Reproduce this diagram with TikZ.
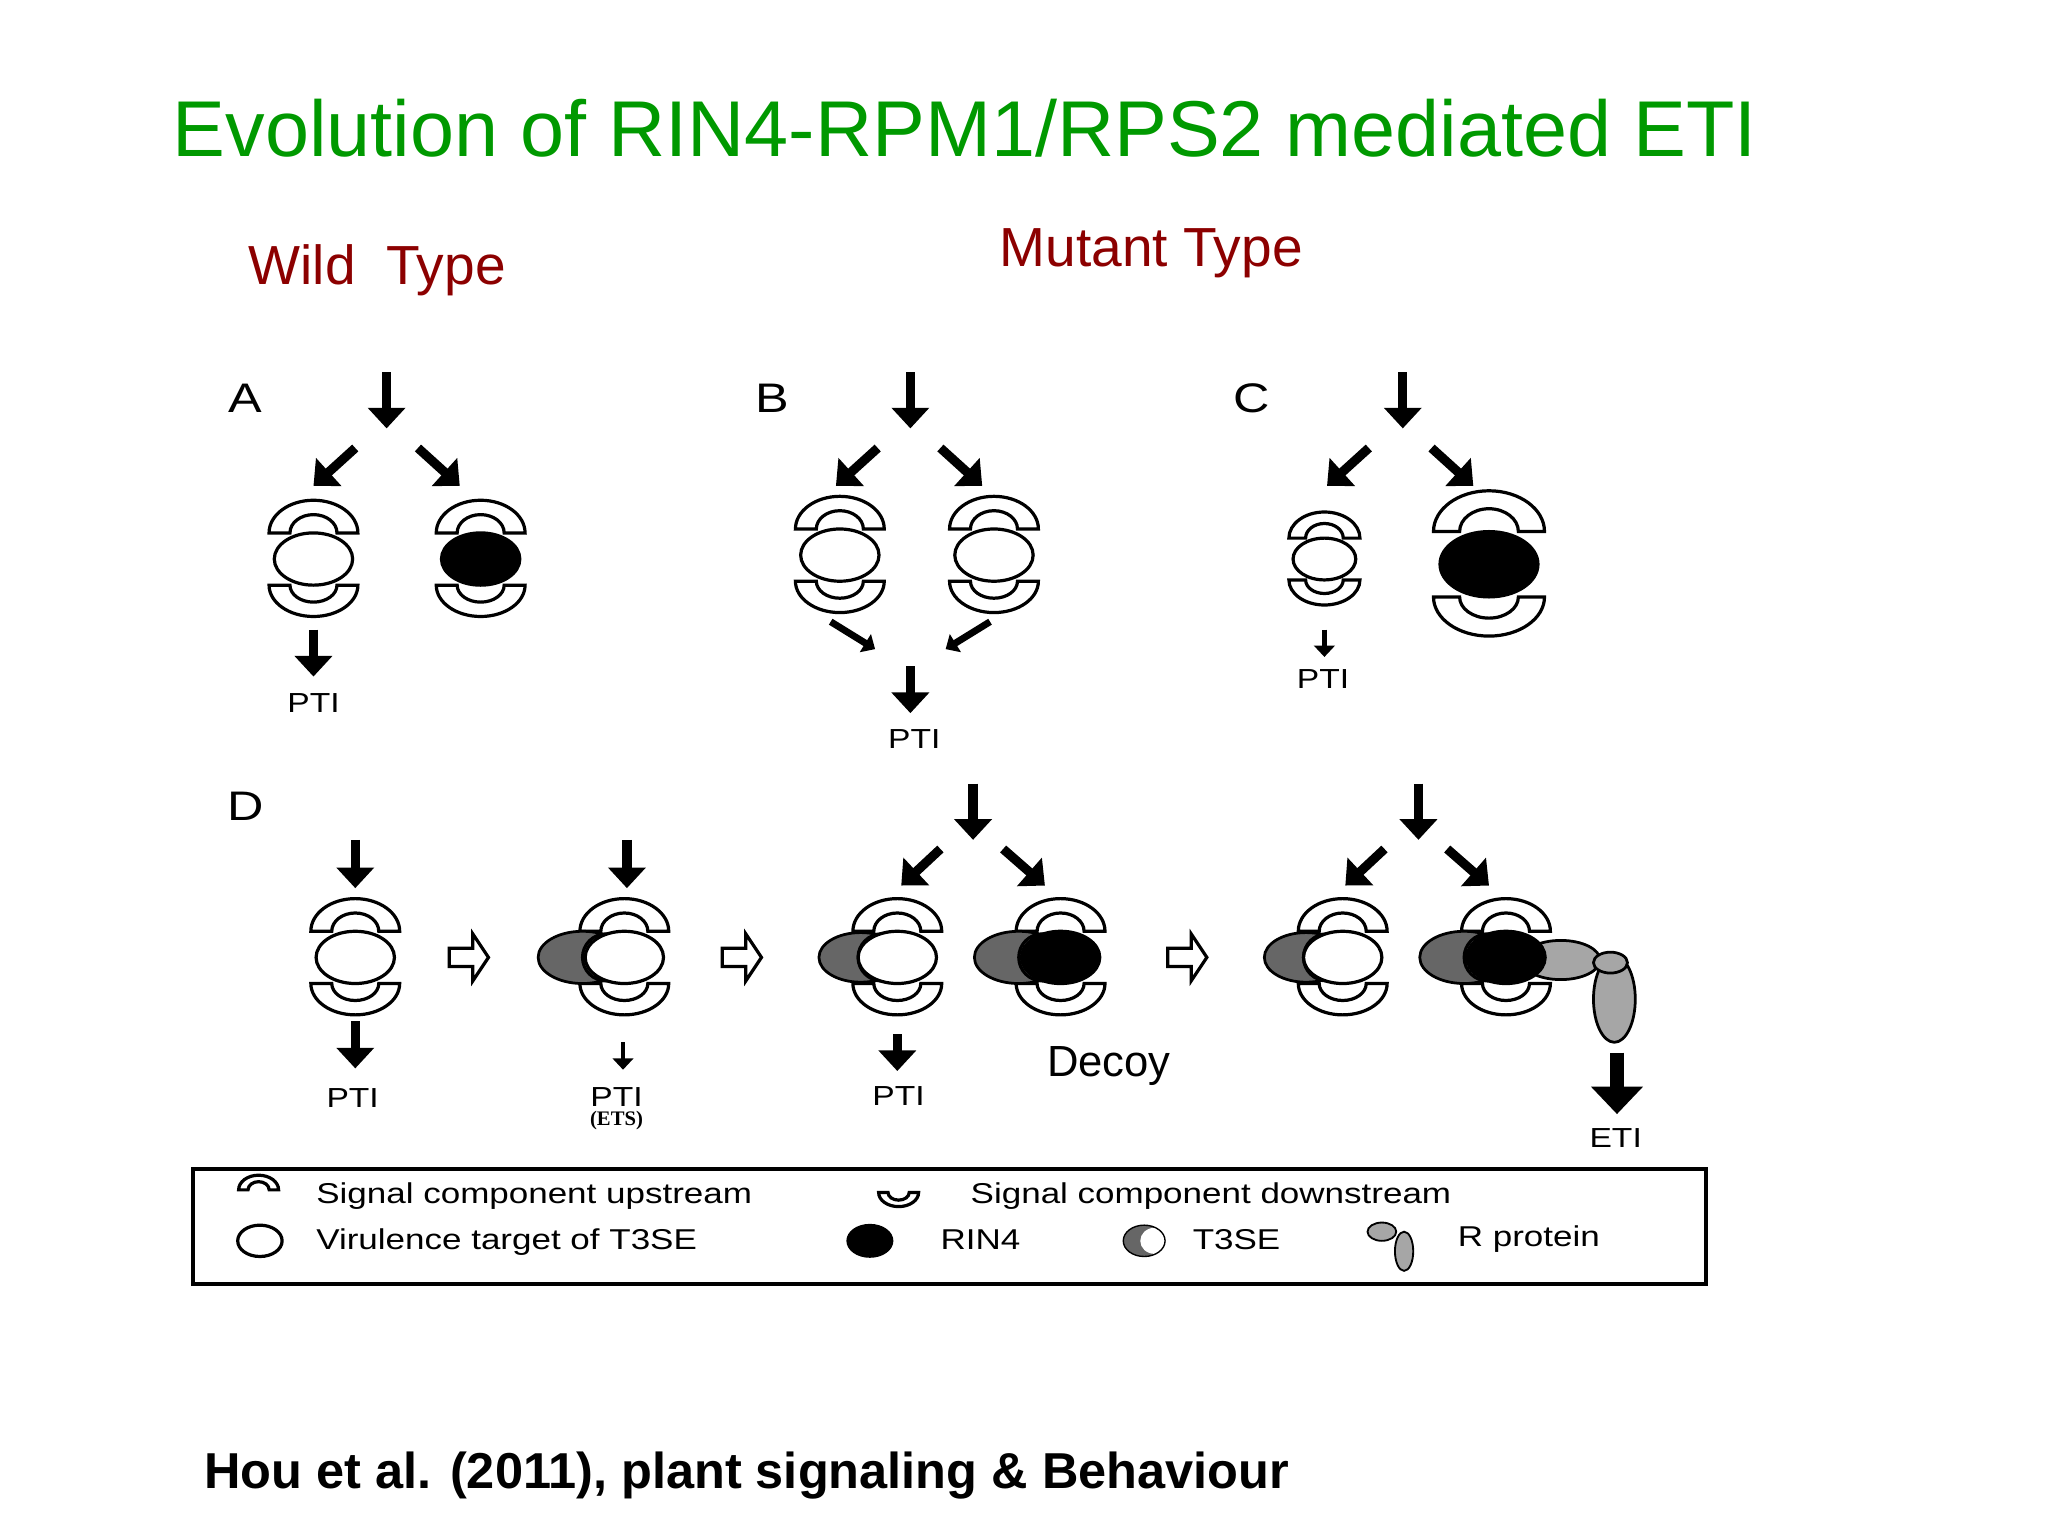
\documentclass[tikz,border=0pt]{standalone}
\usepackage{fontspec}
\usetikzlibrary{arrows.meta}
\setmainfont{Liberation Sans}
\newfontfamily\serifff{Liberation Serif}
\newfontfamily\wide[FakeStretch=1.22]{Liberation Sans}
\begin{document}
\begin{tikzpicture}[x=0.02cm,y=-0.02cm,
  ol/.style={line width=1.4pt,draw=black},
  blk/.style={line width=4pt,-{Triangle[length=9pt,width=16pt]}},
  sblk/.style={line width=2pt,-{Triangle[length=5pt,width=9pt]}},
  lab/.style={font=\wide\fontsize{12}{12}\selectfont},
  leg/.style={font=\wide\fontsize{12.5}{13}\selectfont,anchor=west},
  plab/.style={font=\wide\fontsize{18}{18}\selectfont},
  t3/.style={fill=black!60,draw=black,line width=1.2pt},
  rp/.style={fill=black!35,draw=black,line width=1.2pt}]
\useasboundingbox (0,0) rectangle (1568,1176);
\newcommand\ucap{(-34,-20) arc[start angle=180,end angle=360,x radius=34,y radius=25] -- (18,-20) arc[start angle=360,end angle=180,x radius=18,y radius=14] -- cycle}
\newcommand\dcap{(-34,20) arc[start angle=180,end angle=0,x radius=34,y radius=24] -- (18,20) arc[start angle=0,end angle=180,x radius=18,y radius=13] -- cycle}
\newcommand\cplx[5]{\begin{scope}[shift={(#1,#2)},scale=#3]
  \filldraw[ol,fill=white] \ucap; \filldraw[ol,fill=white] \dcap;
  #5
  \filldraw[ol,fill=#4] (0,0) ellipse[x radius=30,y radius=20];
\end{scope}}
\newcommand\tse{\filldraw[t3] (-32,0) ellipse[x radius=34,y radius=20]; \filldraw[ol,fill=white] (-14,0) ellipse[x radius=18,y radius=18];}
\newcommand\hol[2]{\draw[ol,fill=white] (#1-14,#2-7) -- (#1+4,#2-7) -- (#1+4,#2-18) -- (#1+16,#2) -- (#1+4,#2+18) -- (#1+4,#2+7) -- (#1-14,#2+7) -- cycle;}

\node[anchor=base west,text=green!60!black,font=\fontsize{34.5}{35}\selectfont,inner sep=0] (title) at (132,120) {Evolution of RIN4-RPM1/RPS2 mediated ETI};
\node[anchor=base west,text=red!55!black,font=\fontsize{24}{24}\selectfont,inner sep=0] (wt) at (190,218) {Wild\ \ Type};
\node[anchor=base west,text=red!55!black,font=\fontsize{24}{24}\selectfont,inner sep=0] (mt) at (765,204) {Mutant Type};
\node[plab] (A) at (188,305) {A};
\node[plab] (B) at (591,305) {B};
\node[plab] (C) at (958,305) {C};
\node[plab] (D) at (188,617) {D};

% Panel A
\draw[blk] (296,285) -- (296,328);
\draw[blk] (272,343) -- (240,372);
\draw[blk] (320,343) -- (352,372);
\cplx{240}{428}{1}{white}{}
\cplx{368}{428}{1}{black}{}
\draw[blk] (240,482) -- (240,518);
\node[lab] (pa) at (240,538) {PTI};

% Panel B
\draw[blk] (697,285) -- (697,328);
\draw[blk] (672,343) -- (640,372);
\draw[blk] (720,343) -- (752,372);
\cplx{643}{425}{1}{white}{}
\cplx{761}{425}{1}{white}{}
\draw[sblk,line width=3pt] (636,476) -- (670,497);
\draw[sblk,line width=3pt] (758,476) -- (724,497);
\draw[blk] (697,510) -- (697,546);
\node[lab] (pb) at (700,566) {PTI};

% Panel C
\draw[blk] (1074,285) -- (1074,328);
\draw[blk] (1048,343) -- (1016,372);
\draw[blk] (1096,343) -- (1128,372);
\cplx{1014}{428}{0.8}{white}{}
\cplx{1140}{432}{1.25}{black}{}
\draw[sblk] (1014,482) -- (1014,503);
\node[lab] (pc) at (1013,520) {PTI};

% Panel D
\draw[blk] (272,643) -- (272,680);
\cplx{272}{733}{1}{white}{}
\draw[blk] (272,782) -- (272,818);
\node[lab] (pd1) at (270,841) {PTI};
\hol{358}{733}
\draw[blk] (480,643) -- (480,680);
\cplx{478}{733}{1}{white}{\tse}
\draw[sblk] (477,798) -- (477,819);
\node[lab] (pd2) at (472,840) {PTI};
\node[font=\serifff\fontsize{9}{9}\selectfont\bfseries] (ets) at (472,858) {(ETS)};
\hol{567}{733}
\draw[blk] (745,600) -- (745,643);
\draw[blk] (720,650) -- (690,678);
\draw[blk] (768,650) -- (800,678);
\cplx{687}{733}{1}{white}{\filldraw[t3] (-28,0) ellipse[x radius=32,y radius=19]; \filldraw[ol,fill=white] (-12,0) ellipse[x radius=18,y radius=18];}
\cplx{812}{733}{1}{black}{\tse}
\draw[blk] (687,792) -- (687,820);
\node[lab] (pd3) at (688,839) {PTI};
\node[anchor=center,font=\fontsize{19}{19}\selectfont] (decoy) at (849,816) {Decoy};
\hol{908}{733}
\draw[blk] (1086,600) -- (1086,643);
\draw[blk] (1060,650) -- (1030,678);
\draw[blk] (1108,650) -- (1140,678);
\cplx{1028}{733}{1}{white}{\filldraw[t3] (-28,0) ellipse[x radius=32,y radius=19]; \filldraw[ol,fill=white] (-12,0) ellipse[x radius=18,y radius=18];}
\draw[rp] (1236,765) ellipse[x radius=16,y radius=33];
\draw[rp] (1195,735) ellipse[x radius=30,y radius=15];
\draw[rp] (1233,737) ellipse[x radius=13,y radius=8];
\cplx{1153}{733}{1}{black}{\tse}
\draw[line width=6pt,-{Triangle[length=12pt,width=22pt]}] (1238,806) -- (1238,853);
\node[lab] (eti) at (1237,871) {ETI};

% Legend
\draw[line width=1.6pt] (148,895) rectangle (1306,983);
\begin{scope}[shift={(198,920)},scale=0.45] \filldraw[ol,fill=white] \ucap; \end{scope}
\node[leg] (l1) at (236,916) {Signal component upstream};
\begin{scope}[shift={(688,904)},scale=0.45] \filldraw[ol,fill=white] \dcap; \end{scope}
\node[leg] (l2) at (737,916) {Signal component downstream};
\draw[ol] (199,950) ellipse[x radius=17,y radius=12];
\node[leg] (l3) at (236,951) {Virulence target of T3SE};
\fill (666,950) ellipse[x radius=18,y radius=13];
\node[leg] (l4) at (714,949) {RIN4};
\fill[black!60] (876,950) ellipse[x radius=16,y radius=12];
\fill[white] (884,950) ellipse[x radius=11,y radius=10];
\draw[line width=0.6pt] (876,950) ellipse[x radius=16,y radius=12];
\node[leg] (l5) at (907,949) {T3SE};
\draw[rp,line width=0.8pt] (1075,958) ellipse[x radius=7,y radius=15];
\draw[rp,line width=0.8pt] (1058,943) ellipse[x radius=11,y radius=7];
\node[leg] (l6) at (1110,949) {R protein};

\node[anchor=base west,font=\fontsize{22}{22}\selectfont\bfseries,inner sep=0] (cite) at (156,1140) {Hou et al. (2011), plant signaling \& Behaviour};
\end{tikzpicture}
\end{document}
